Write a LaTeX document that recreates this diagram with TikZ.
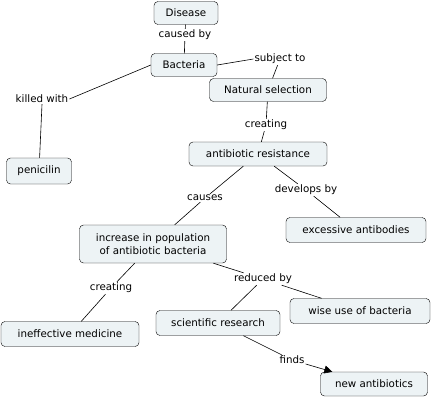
\documentclass[tikz,border=0pt]{standalone}
\usepackage{fontspec}
\setmainfont{DejaVu Sans}
\usetikzlibrary{arrows.meta}
\definecolor{boxfill}{HTML}{EDF3F5}
\begin{document}
\begin{tikzpicture}[x=1pt,y=-1pt,
 box/.style={draw=black,fill=boxfill,rounded corners=4pt,font=\fontsize{10.3}{12.5}\selectfont,inner sep=0pt,align=center,minimum height=23pt},
 lab/.style={font=\fontsize{10.3}{12}\selectfont,inner sep=1pt,fill=white},
 ln/.style={draw=black,line width=0.6pt}]
\useasboundingbox (0,0) rectangle (431,400);
\node[box,minimum width=64pt] (dis) at (186,13) {Disease};
\node[box,minimum width=66pt] (bac) at (184,65) {Bacteria};
\node[box,minimum width=117pt] (nat) at (268,90) {Natural selection};
\node[box,minimum width=65pt,minimum height=26pt] (pen) at (39,171) {penicilin};
\node[box,minimum width=138pt,minimum height=24pt] (res) at (258,154) {antibiotic resistance};
\node[box,minimum width=140pt,minimum height=25pt] (exc) at (356,230) {excessive antibodies};
\node[box,minimum width=147pt,minimum height=38pt] (inc) at (153,244) {increase in population\\of antibiotic bacteria};
\node[box,minimum width=138pt,minimum height=25pt] (ine) at (70,334) {ineffective medicine};
\node[box,minimum width=124pt,minimum height=25pt] (sci) at (218,323) {scientific research};
\node[box,minimum width=140pt,minimum height=25pt] (wis) at (360,311) {wise use of bacteria};
\node[box,minimum width=107pt,minimum height=24pt] (new) at (374,384) {new antibiotics};
\node[lab] (l1) at (185,35) {caused by};
\node[lab] (l2) at (280,59) {subject to};
\node[lab] (l3) at (42,99) {killed with};
\node[lab] (l4) at (266,125) {creating};
\node[lab] (l5) at (205,198) {causes};
\node[lab] (l6) at (306,190) {develops by};
\node[lab] (l7) at (111,288) {creating};
\node[lab] (l8) at (263,279) {reduced by};
\node[lab] (l9) at (292,360) {finds};
\draw[ln] (dis) -- (l1); \draw[ln] (l1) -- (bac);
\draw[ln] (bac.east) -- (l2.west); \draw[ln] (l2) -- (nat);
\draw[ln] (bac.west) -- (l3.east); \draw[ln] (l3.south) -- (pen);
\draw[ln] (nat) -- (l4); \draw[ln] (l4) -- (res);
\draw[ln] (res) -- (l5); \draw[ln] (l5) -- (inc);
\draw[ln] (res) -- (l6); \draw[ln] (l6) -- (exc);
\draw[ln] (inc) -- (l7); \draw[ln] (l7) -- (ine);
\draw[ln] (inc) -- (l8); \draw[ln] (l8) -- (sci); \draw[ln] (l8) -- (wis);
\draw[ln] (sci) -- (l9); \draw[ln,-{Triangle[length=8pt,width=8pt]}] (l9) -- (new);
\end{tikzpicture}
\end{document}
